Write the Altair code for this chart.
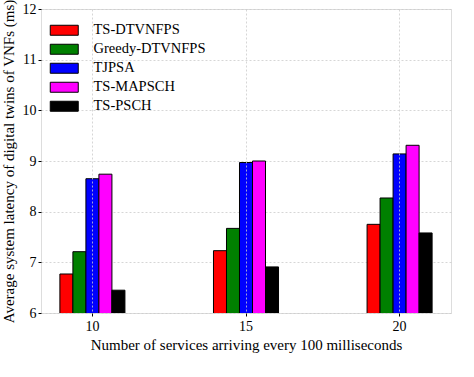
import altair as alt
import pandas as pd

groups = [10, 15, 20]
methods = ["TS-DTVNFPS", "Greedy-DTVNFPS", "TJPSA", "TS-MAPSCH", "TS-PSCH"]
colors = ["#ff0000", "#008000", "#0000ff", "#ff00ff", "#000000"]
values = {
    "TS-DTVNFPS": [6.77, 7.23, 7.75],
    "Greedy-DTVNFPS": [7.21, 7.67, 8.27],
    "TJPSA": [8.65, 8.97, 9.14],
    "TS-MAPSCH": [8.74, 9.00, 9.31],
    "TS-PSCH": [6.45, 6.91, 7.58],
}

rows = []
for m in methods:
    for g, v in zip(groups, values[m]):
        rows.append({"n": g, "method": m, "latency": v})
df = pd.DataFrame(rows)

FONT = "Liberation Serif"

chart = alt.Chart(df).mark_bar(stroke="black", strokeWidth=1, clip=True).encode(
    x=alt.X("n:O", title="Number of services arriving every 100 milliseconds",
            scale=alt.Scale(paddingInner=0.5765, paddingOuter=0.123),
            axis=alt.Axis(labelAngle=0, grid=True, gridDash=[2, 2], gridColor="#cccccc",
                          gridWidth=0.8, tickSize=3, tickColor="black", domain=False,
                          labelFontSize=14, titleFontSize=15, labelPadding=3, titlePadding=4,
                          zindex=1)),
    xOffset=alt.XOffset("method:N", sort=methods, scale=alt.Scale(paddingInner=0, paddingOuter=0)),
    y=alt.Y("latency:Q", title="Average system latency of digital twins of VNFs (ms)",
            scale=alt.Scale(domain=[6, 12], nice=False, zero=False),
            axis=alt.Axis(values=[6, 7, 8, 9, 10, 11, 12], grid=True, gridDash=[2, 2],
                          gridColor="#cccccc", gridWidth=0.8, tickSize=3, tickColor="black",
                          domain=False, labelFontSize=14, titleFontSize=15, labelPadding=2,
                          titlePadding=6)),
    color=alt.Color("method:N", sort=methods,
                    scale=alt.Scale(domain=methods, range=colors),
                    legend=alt.Legend(title=None, orient="none", legendX=16, legendY=14,
                                      symbolType="M-2.8,-1H2.8V1H-2.8Z", symbolSize=100,
                                      symbolStrokeColor="black", symbolStrokeWidth=1,
                                      symbolOpacity=1, labelFontSize=14.5, labelOffset=22,
                                      rowPadding=3, padding=0)),
).properties(
    width=410, height=304,
    autosize=alt.AutoSizeParams(type="none"),
    padding={"left": 41, "top": 9, "right": 23, "bottom": 64},
).configure_view(
    stroke="black", strokeWidth=1.2
).configure(
    font=FONT
).configure_axis(
    labelFont=FONT, titleFont=FONT, labelColor="black", titleColor="black",
    titleFontWeight="normal"
).configure_legend(
    labelFont=FONT, labelColor="black"
)

chart.save("out.html", embed_options={"renderer": "svg", "actions": False})
